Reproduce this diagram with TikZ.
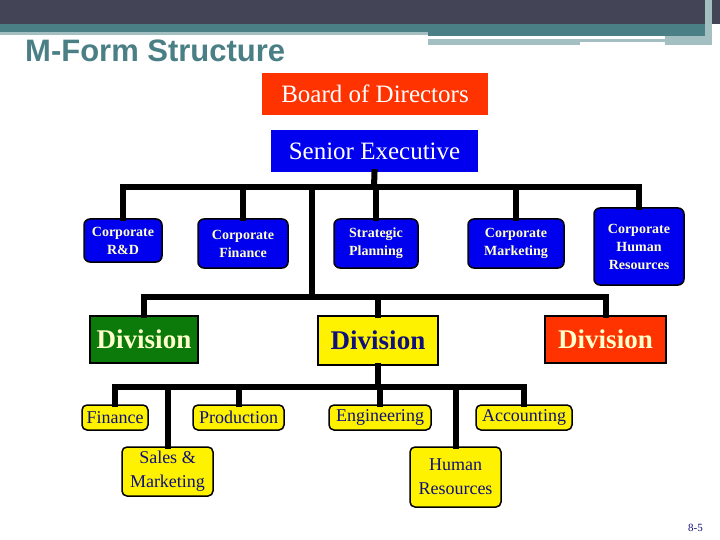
\documentclass[tikz,border=0pt]{standalone}
\usepackage{fontspec}
\setmainfont{Liberation Serif}
\setsansfont{Liberation Sans}
\begin{document}
\begin{tikzpicture}[x=1pt,y=-1pt,
  bar/.style={line width=6pt,line cap=rect},
  corp/.style={draw=black,line width=1.5pt,fill=cblue,rounded corners=6pt,text=cyel,font=\bfseries\fontsize{14}{18}\selectfont,align=center,inner sep=0pt},
  sub/.style={draw=black,line width=1.5pt,fill=yellow,rounded corners=5pt,text=navy,font=\fontsize{18}{24}\selectfont,align=center,inner sep=0pt},
  div/.style={draw=black,line width=1.5pt,font=\bfseries\fontsize{27}{30}\selectfont,inner sep=0pt},
  top/.style={font=\fontsize{25}{28}\selectfont,text=white,inner sep=0pt}]
\definecolor{cblue}{HTML}{0000EE}
\definecolor{cyel}{HTML}{FFFFCC}
\definecolor{navy}{HTML}{10107A}
\definecolor{cred}{HTML}{FF3300}
\definecolor{cgreen}{HTML}{0B7A0B}
\definecolor{dark}{HTML}{434556}
\definecolor{teal}{HTML}{4A7F86}
\definecolor{lteal}{HTML}{A3BFC2}
\useasboundingbox (0,0) rectangle (720,540);
\fill[white] (0,0) rectangle (720,540);
% header
\fill[dark] (0,0) rectangle (720,24);
\fill[teal] (0,24) rectangle (705,32);
\fill[lteal] (0,32) rectangle (428,35);
\fill[teal] (428,32) rectangle (705,36);
\fill[lteal] (428,39) rectangle (580,45);
\fill[lteal] (580,39) rectangle (665,42);
\fill[lteal] (665,36) rectangle (705,45);
\fill[lteal] (705,0) rectangle (712,45);
\node[anchor=base west,text=teal,font=\sffamily\bfseries\fontsize{31}{33}\selectfont,inner sep=0pt] (title) at (25,62) {M-Form Structure};
% top boxes
\node[top,fill=cred,minimum width=226,minimum height=42] (bod) at (375,94) {Board of Directors};
\node[top,fill=cblue,minimum width=207,minimum height=42] (se) at (374.5,151) {Senior Executive};
% corporate
\node[corp,minimum width=78,minimum height=43] (rd) at (123,240.5) {Corporate\\R\&D};
\node[corp,minimum width=90,minimum height=49] (cf) at (243,243.5) {Corporate\\Finance};
\node[corp,minimum width=84,minimum height=49] (sp) at (376,243.5) {Strategic\\Planning};
\node[corp,minimum width=96,minimum height=49] (cm) at (516,243.5) {Corporate\\Marketing};
\node[corp,minimum width=90,minimum height=77] (chr) at (639,246.5) {Corporate\\Human\\Resources};
% divisions
\node[div,fill=cgreen,text=cyel,minimum width=108,minimum height=47] (d1) at (144,339.5) {Division};
\node[div,fill=yellow,text=navy,minimum width=120,minimum height=49] (d2) at (378,340.5) {Division};
\node[div,fill=cred,text=cyel,minimum width=121,minimum height=47] (d3) at (605.5,339.5) {Division};
% sub units
\node[sub,minimum width=66,minimum height=25] (fin) at (115,417.5) {Finance};
\node[sub,minimum width=91,minimum height=25] (pro) at (238.5,417.5) {Production};
\node[sub,minimum width=102,minimum height=25] (eng) at (380,417.5) {Engineering};
\node[sub,minimum width=96,minimum height=25] (acc) at (524,417.5) {Accounting};
\node[sub,minimum width=91,minimum height=49] (sm) at (167.5,471.5) {Sales \&\\Marketing};
\node[sub,minimum width=91,minimum height=60] (hr) at (455.5,477) {Human\\Resources};
\node[anchor=base east,text=navy,font=\fontsize{11}{12}\selectfont,inner sep=0pt] (pg) at (703,531) {8-5};
% connectors
\coordinate (b1) at (374,187);
\coordinate (b2) at (312,297);
\coordinate (b3) at (378,387);
\draw[bar] (se.south) -- (b1);
\draw[bar] (rd.north) -- (rd.north |- b1) -- (chr.north |- b1) -- (chr.north);
\foreach \n in {cf,sp,cm} \draw[bar] (\n.north) -- (\n.north |- b1);
\draw[bar] (b1 -| b2) -- (b2);
\draw[bar] (d1.north) -- (d1.north |- b2) -- (d3.north |- b2) -- (d3.north);
\draw[bar] (d2.north) -- (d2.north |- b2);
\draw[bar] (d2.south) -- (b3);
\draw[bar] (fin.north) -- (fin.north |- b3) -- (acc.north |- b3) -- (acc.north);
\foreach \n in {pro,eng,sm,hr} \draw[bar] (\n.north) -- (\n.north |- b3);
\end{tikzpicture}
\end{document}
